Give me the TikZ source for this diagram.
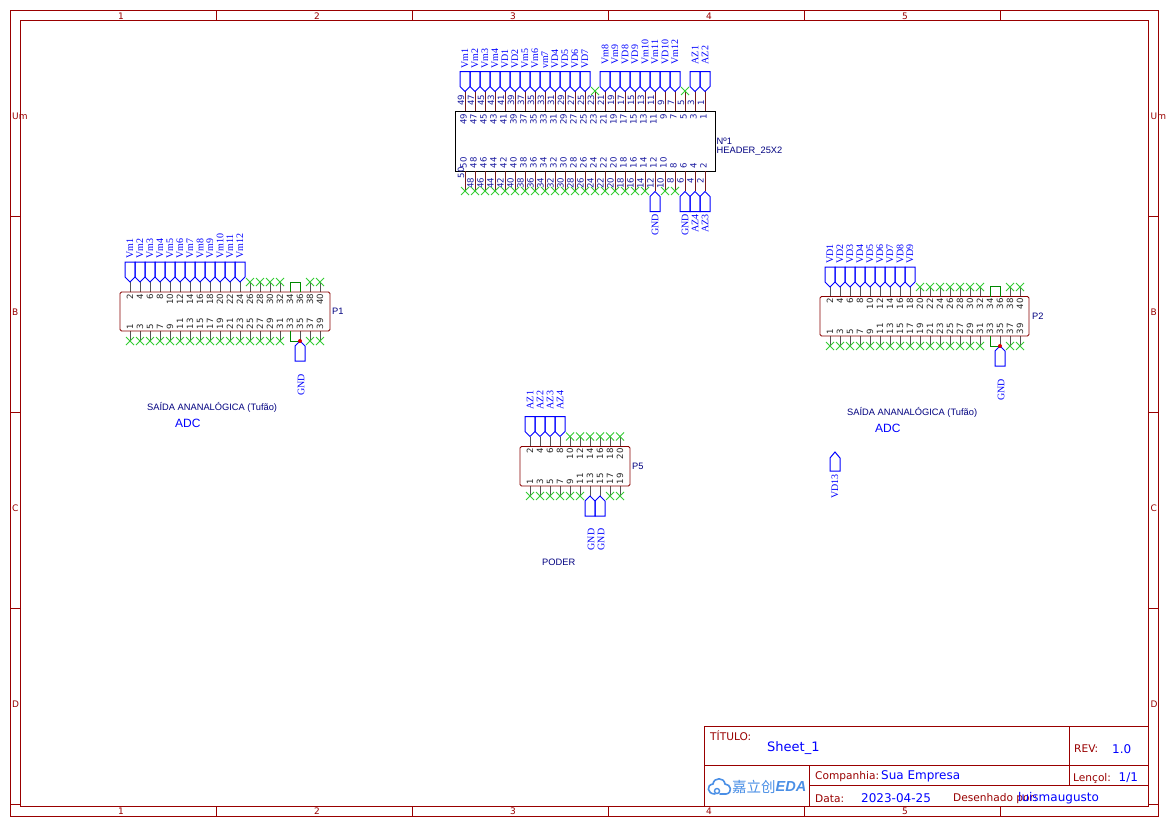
\documentclass[tikz,border=0pt]{standalone}
\usepackage{fontspec}
\setmainfont{DejaVu Sans}
\newfontfamily\serifnet{Liberation Serif}
\newfontfamily\arialf{Liberation Sans}
\newfontfamily\cjkf{Noto Sans CJK SC}
\definecolor{framered}{HTML}{990000}
\definecolor{partred}{HTML}{880000}
\definecolor{netblue}{HTML}{0000FF}
\definecolor{textnavy}{HTML}{000080}
\definecolor{numblue}{HTML}{1A1AA0}
\definecolor{nogreen}{HTML}{33CC33}
\definecolor{wiregreen}{HTML}{008800}
\definecolor{pingrey}{HTML}{555555}
\definecolor{logoblue}{HTML}{4A8FE6}
\tikzset{
 x=1pt,y=-1pt,
 frameline/.style={draw=framered,line width=0.9pt},
 framelabel/.style={text=framered,font=\fontsize{9}{9}\selectfont,inner sep=0pt},
 titlelabel/.style={text=framered,font=\fontsize{10.6}{10.6}\selectfont,inner sep=0pt,anchor=west},
 titleval/.style={text=netblue,font=\fontsize{12}{12}\selectfont,inner sep=0pt,anchor=west},
 body/.style={draw=partred,line width=0.9pt,rounded corners=1.5pt},
 hbody/.style={draw=black,line width=1pt},
 pinline/.style={draw=pingrey,line width=0.9pt},
 hpin/.style={draw=partred!70!pingrey,line width=1pt},
 pinnum/.style={text=black!85,font=\fontsize{8.6}{8.6}\selectfont,inner sep=0pt,rotate=90},
 hnum/.style={text=numblue,font=\fontsize{8.6}{8.6}\selectfont,inner sep=0pt,rotate=90},
 netflag/.style={draw=netblue,line width=1pt,line join=miter},
 netname/.style={text=netblue,font=\serifnet\fontsize{10}{10}\selectfont,inner sep=0pt,rotate=90},
 partname/.style={text=textnavy,font=\arialf\fontsize{9.3}{9.3}\selectfont,inner sep=0pt,anchor=west},
 bluetext/.style={text=netblue,font=\arialf\fontsize{12}{12}\selectfont,inner sep=0pt,anchor=west},
 noconn/.style={draw=nogreen,line width=0.8pt},
 jumper/.style={draw=wiregreen,line width=0.9pt},
}
\newcommand{\flagdown}[4]{%
 \draw[netflag] (#1,#2) -- (#1-5,#2-5) -- (#1-5,#2-20) -- (#1+5,#2-20) -- (#1+5,#2-5) -- cycle;
 \node[netname,anchor=west] at (#1,#4) {#3};}
\newcommand{\nocon}[2]{%
 \draw[noconn] (#1-4,#2-4) -- (#1+4,#2+4) (#1-4,#2+4) -- (#1+4,#2-4);}
\begin{document}
\begin{tikzpicture}
\useasboundingbox (0,0) rectangle (1176,827);
\fill[white] (0,0) rectangle (1176,827);
% ---------- frame
\draw[frameline] (10.2,10.4) rectangle (1158.2,816);
\draw[frameline] (20.2,20.4) rectangle (1148.2,806.2);
\foreach \x in {216,412,608,804,1000}{
 \draw[frameline] (\x,10.4) -- (\x,20.4);
 \draw[frameline] (\x,806.2) -- (\x,816);}
\foreach \y in {216,412,608,804}{
 \draw[frameline] (10.2,\y) -- (20.2,\y);
 \draw[frameline] (1148.2,\y) -- (1158.2,\y);}
\foreach \x/\t in {121/1,317/2,513/3,709/4,905/5}{
 \node[framelabel] (top\t) at (\x,16) {\t};
 \node[framelabel] (bot\t) at (\x,811.5) {\t};}
\foreach \y/\t in {116/Um,312/B,508/C,704/D}{
 \node[framelabel,anchor=west] (lft\t) at (12,\y) {\t};
 \node[framelabel,anchor=west] (rgt\t) at (1150.5,\y) {\t};}

% ---------- title block
\draw[frameline] (704.5,726.7) rectangle (1148.2,806.2);
\draw[frameline] (704.5,765.8) -- (1148.2,765.8);
\draw[frameline] (809,785.8) -- (1148.2,785.8);
\draw[frameline] (809,765.8) -- (809,806.2);
\draw[frameline] (1069,726.7) -- (1069,785.8);
\node[titlelabel] (ttl) at (710,736) {TÍTULO:};
\node[titleval,font=\fontsize{13}{13}\selectfont] (sheet) at (767,748.5) {Sheet\_1};
\node[titlelabel] (rev) at (1074,749) {REV:};
\node[titleval] (revv) at (1112,749) {1.0};
\node[titlelabel] (cia) at (815,776.5) {Companhia:};
\node[titleval] (ciav) at (881,776.5) {Sua Empresa};
\node[titlelabel] (len) at (1073,778.5) {Lençol:};
\node[titleval] (lenv) at (1118.5,778) {1/1};
\node[titlelabel] (dat) at (815,798.5) {Data:};
\node[titleval] (datv) at (861,798.5) {2023-04-25};
\node[titlelabel] (des) at (953,798.5) {Desenhado por:};
\node[titleval] (desv) at (1018,798.5) {luismaugusto};
% logo
\draw[logoblue,line width=1.6pt,line cap=round,line join=round]
 (715,794) .. controls (707,794) and (706,785) .. (713,784) .. controls (714,777) and (724,777) .. (725,784)
 .. controls (731,784) and (733,793) .. (726,794) -- (720,794);
\draw[logoblue,line width=1.4pt] (717,791) circle (2.5pt);
\node[inner sep=0pt,anchor=west,text=logoblue,font=\cjkf\fontsize{14.5}{14.5}\selectfont] (logo1) at (732,787) {嘉立创};
\node[inner sep=0pt,anchor=west,text=logoblue,font=\arialf\bfseries\itshape\fontsize{14.5}{14.5}\selectfont] (logo2) at (775.5,787) {EDA};

% ---------- header N1
\draw[hbody] (455,111) rectangle (715,171);
\foreach \n [evaluate=\n as \px using {705-(\n-1)*5}] in {1,3,...,49}{
 \draw[hpin] (\px,91) -- (\px,111);
 \node[hnum,anchor=east] at (\px-1.5,113.5) {\n};
 \node[hnum,anchor=west] at (\px-4,106) {\n};}
\foreach \n [evaluate=\n as \px using {705-(\n-2)*5}] in {2,4,...,50}{
 \draw[hpin] (\px,171) -- (\px,191);
 \node[hnum,anchor=west] at (\px-1.5,168.5) {\n};}
\foreach \n [evaluate=\n as \px using {705-(\n-2)*5}] in {2,4,...,48}{
 \node[hnum,anchor=east] at (\px-4.5,177.5) {\n};}
\node[hnum,anchor=east] at (461,167) {50};
\foreach \x/\t in {465/Vm1,475/Vm2,485/Vm3,495/Vm4,505/VD1,515/VD2,525/Vm5,535/Vm6,545/vm7,555/VD4,565/VD5,575/VD6,585/VD7}{
 \flagdown{\x}{91.5}{\t}{69}}
\foreach \x/\t in {605/Vm8,615/Vm9,625/VD8,635/VD9,645/Vm10,655/Vm11,665/VD10,675/Vm12,695/AZ1,705/AZ2}{
 \flagdown{\x}{91.5}{\t}{64.5}}
\foreach \x in {595,685}{\nocon{\x}{91}}
\foreach \x in {465,475,...,645,665,675}{\nocon{\x}{191}}
\foreach \x/\t in {655/GND,685/GND,695/AZ4,705/AZ3}{
 \draw[netflag] (\x,191.5) -- (\x-5,196.5) -- (\x-5,211.5) -- (\x+5,211.5) -- (\x+5,196.5) -- cycle;
 \node[netname,anchor=east] at (\x,214) {\t};}
\node[partname] (n1a) at (716.5,141) {Nº1};
\node[partname] (n1b) at (716.5,151) {HEADER\_25X2};

% ---------- P1
\foreach \n [evaluate=\n as \px using {130+(\n-2)*5}] in {2,4,...,40}{
 \draw[pinline] (\px,282) -- (\px,292);
 \node[pinnum,anchor=east] at (\px,293.5) {\n};}
\foreach \n [evaluate=\n as \px using {130+(\n-1)*5}] in {1,3,...,39}{
 \draw[pinline] (\px,331) -- (\px,341);
 \node[pinnum,anchor=west] at (\px,329.5) {\n};}
\draw[body] (120,292) rectangle (330,331);
\foreach \x/\t in {130/Vm1,140/Vm2,150/Vm3,160/Vm4,170/Vm5,180/Vm6,190/Vm7,200/Vm8,210/Vm9,220/Vm10,230/Vm11,240/Vm12}{
 \flagdown{\x}{282}{\t}{259}}
\foreach \x in {250,260,270,280,310,320}{\nocon{\x}{282}}
\foreach \x in {130,140,...,280,310,320}{\nocon{\x}{341}}
\draw[jumper] (290,292) -- (290,282) -- (300,282) -- (300,292);
\draw[jumper] (290,331) -- (290,341) -- (300,341);
\draw[netflag] (300,341) -- (295,346) -- (295,361) -- (305,361) -- (305,346) -- cycle;
\fill[red!85!black] (300,341) circle (2pt);
\node[netname,anchor=east] (gnd1) at (301,374) {GND};
\node[partname] (p1) at (332,311) {P1};
\node[partname] (s1) at (147,407.5) {SAÍDA ANANALÓGICA (Tufão)};
\node[bluetext] (adc1) at (175,423) {ADC};

% ---------- P2
\foreach \n [evaluate=\n as \px using {830+(\n-2)*5}] in {2,4,...,40}{
 \draw[pinline] (\px,287) -- (\px,297);
 \node[pinnum,anchor=east] at (\px,298) {\n};}
\foreach \n [evaluate=\n as \px using {830+(\n-1)*5}] in {1,3,...,39}{
 \draw[pinline] (\px,336) -- (\px,346);
 \node[pinnum,anchor=west] at (\px,334.5) {\n};}
\draw[body] (820,296.5) rectangle (1029,336);
\foreach \x/\t in {830/VD1,840/VD2,850/VD3,860/VD4,870/VD5,880/VD6,890/VD7,900/VD8,910/VD9}{
 \flagdown{\x}{287}{\t}{264}}
\foreach \x in {920,930,...,980,1010,1020}{\nocon{\x}{287}}
\foreach \x in {830,840,...,980,1010,1020}{\nocon{\x}{346}}
\draw[jumper] (990,297) -- (990,286.5) -- (1000,286.5) -- (1000,297);
\draw[jumper] (990,336) -- (990,346) -- (1000,346);
\draw[netflag] (1000,346) -- (995,351) -- (995,366) -- (1005,366) -- (1005,351) -- cycle;
\fill[red!85!black] (1000,346) circle (2pt);
\node[netname,anchor=east] (gnd2) at (1001,379) {GND};
\node[partname] (p2) at (1032,316) {P2};
\node[partname] (s2) at (847,412) {SAÍDA ANANALÓGICA (Tufão)};
\node[bluetext] (adc2) at (875,428) {ADC};
\draw[netflag] (835,452) -- (830,458) -- (830,471) -- (840,471) -- (840,458) -- cycle;
\node[netname,anchor=east] (vd13) at (835,474) {VD13};

% ---------- P5
\foreach \n [evaluate=\n as \px using {530+(\n-2)*5}] in {2,4,...,20}{
 \draw[pinline] (\px,436.5) -- (\px,446.5);
 \node[pinnum,anchor=east] at (\px,448) {\n};}
\foreach \n [evaluate=\n as \px using {530+(\n-1)*5}] in {1,3,...,19}{
 \draw[pinline] (\px,486) -- (\px,496);
 \node[pinnum,anchor=west] at (\px,484.5) {\n};}
\draw[body] (520,446.5) rectangle (630,486);
\foreach \x/\t in {530/AZ1,540/AZ2,550/AZ3,560/AZ4}{
 \flagdown{\x}{436.5}{\t}{409.5}}
\foreach \x in {570,580,...,620}{\nocon{\x}{436.5}}
\foreach \x in {530,540,...,580,610,620}{\nocon{\x}{496}}
\foreach \x/\nm in {590/gnd3,600/gnd4}{
 \draw[netflag] (\x,496) -- (\x-5,501) -- (\x-5,516) -- (\x+5,516) -- (\x+5,501) -- cycle;
 \node[netname,anchor=east] (\nm) at (\x+1,528.5) {GND};}
\node[partname] (p5) at (632,466) {P5};
\node[partname] (pod) at (542,562) {PODER};
\end{tikzpicture}
\end{document}
